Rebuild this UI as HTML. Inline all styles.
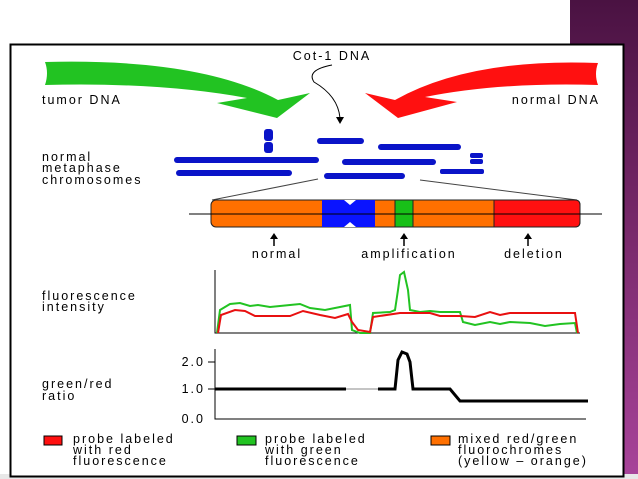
<!DOCTYPE html>
<html><head><meta charset="utf-8"><style>
html,body{margin:0;padding:0;width:638px;height:479px;overflow:hidden;background:#fff}
</style></head><body>
<svg width="638" height="479" viewBox="0 0 638 479" xmlns="http://www.w3.org/2000/svg" font-family="Liberation Sans, sans-serif" font-size="12.5" letter-spacing="2" fill="#000">
<defs><linearGradient id="pg" x1="0" y1="0" x2="0" y2="1"><stop offset="0" stop-color="#4a1242"/><stop offset="0.5" stop-color="#7a2a6c"/><stop offset="1" stop-color="#a8449a"/></linearGradient></defs>
<rect x="570" y="0" width="68" height="479" fill="url(#pg)"/>
<rect x="0" y="474" width="638" height="5" fill="#e8e8e8"/>
<rect x="10.5" y="44.5" width="613" height="432" fill="#fff" stroke="#000" stroke-width="2"/>
<text x="332" y="60" text-anchor="middle">Cot-1 DNA</text>
<path d="M45,62 Q200,58 278,100 L310,93 L277,118 L217,103 L247,98 Q160,82 45,85 Q49,73 45,62Z" fill="#22c322"/>
<path d="M598,63 Q470,58 395,100 L365,93 L398,118 L457,102 L425,97 Q500,82 598,85 Q594,74 598,63Z" fill="#ff1010"/>
<path d="M332,65 Q306,70 314,82 Q338,96 340,118" fill="none" stroke="#000" stroke-width="1"/>
<path d="M336,117 L344,117 L340,124Z"/>
<text x="42" y="104">tumor DNA</text>
<text x="600" y="104" text-anchor="end">normal DNA</text>
<g fill="#0a14c8">
<rect x="264" y="129" width="9" height="12" rx="3"/><rect x="264" y="142" width="9" height="11" rx="3"/>
<rect x="317" y="138" width="47" height="6" rx="3"/>
<rect x="378" y="144" width="83" height="6" rx="3"/>
<rect x="174" y="157" width="145" height="6" rx="3"/>
<rect x="342" y="159" width="94" height="6" rx="3"/>
<rect x="470" y="153" width="13" height="5" rx="2"/><rect x="470" y="159" width="13" height="5" rx="2"/>
<rect x="176" y="170" width="116" height="6" rx="3"/>
<rect x="324" y="173" width="81" height="6" rx="3"/>
<rect x="440" y="169" width="44" height="5" rx="2"/>
</g>
<text x="42" y="161">normal</text><text x="42" y="172">metaphase</text><text x="42" y="184">chromosomes</text>
<line x1="318" y1="179" x2="212" y2="200" stroke="#444"/>
<line x1="420" y1="180" x2="577" y2="200" stroke="#444"/>
<rect x="211" y="200" width="369" height="27" rx="5" fill="#ff7000" stroke="#222"/>
<rect x="322" y="200" width="53" height="27" fill="#0a14ff"/>
<path d="M344,200 L350,205 L356,200Z M344,227 L350,222 L356,227Z" fill="#fff"/>
<rect x="395" y="200" width="18" height="27" fill="#18c018" stroke="#222"/>
<path d="M494,200 H575 Q580,200 580,205 V222 Q580,227 575,227 H494Z" fill="#ff1010" stroke="#222"/>
<line x1="189" y1="214" x2="602" y2="214" stroke="#000"/>
<g stroke="#000" stroke-width="1.5"><line x1="274" y1="237" x2="274" y2="246"/><line x1="404" y1="237" x2="404" y2="246"/><line x1="528" y1="237" x2="528" y2="246"/></g>
<path d="M270,239 L278,239 L274,233Z M400,239 L408,239 L404,233Z M524,239 L532,239 L528,233Z"/>
<text x="277" y="258" text-anchor="middle">normal</text>
<text x="409" y="258" text-anchor="middle">amplification</text>
<text x="534" y="258" text-anchor="middle">deletion</text>
<text x="42" y="300">fluorescence</text><text x="42" y="311">intensity</text>
<path d="M215,270 V333 H580" fill="none" stroke="#000"/>
<polyline fill="none" stroke="#22c322" stroke-width="2" points="217,333 220,310 230,304 240,303 250,306 258,305 270,307 290,305 300,304 310,308 325,310 340,307 350,305 352,330 360,333 370,333 373,313 390,312 395,310 398,290 400,275 404,272 408,290 410,310 420,312 430,311 440,312 460,312 463,322 475,325 490,322 500,324 510,322 530,323 545,326 560,324 575,323 577,333"/>
<polyline fill="none" stroke="#e81010" stroke-width="2" points="218,333 221,315 235,310 245,311 255,316 270,316 290,316 303,311 320,315 335,318 348,314 352,322 358,330 370,332 373,317 400,313 430,313 440,316 460,316 475,317 490,312 500,315 510,313 540,313 575,313 578,333"/>
<path d="M215,349 V419 H586" fill="none" stroke="#000"/>
<g stroke="#000"><line x1="208" y1="362" x2="215" y2="362"/><line x1="208" y1="389" x2="215" y2="389"/></g>
<text x="205" y="366" text-anchor="end">2.0</text><text x="205" y="393" text-anchor="end">1.0</text><text x="205" y="423" text-anchor="end">0.0</text>
<text x="42" y="388">green/red</text><text x="42" y="400">ratio</text>
<line x1="215" y1="389" x2="346" y2="389" stroke="#000" stroke-width="3"/>
<line x1="346" y1="389" x2="378" y2="389" stroke="#888" stroke-width="1"/>
<polyline fill="none" stroke="#000" stroke-width="3" points="378,389 395,389 398,360 402,352 407,354 410,362 413,389 450,389 460,401 588,401"/>
<rect x="44" y="436" width="18" height="9" fill="#ff1010" stroke="#000"/>
<rect x="237" y="436" width="19" height="9" fill="#22c322" stroke="#000"/>
<rect x="431" y="436" width="19" height="9" fill="#ff7000" stroke="#000"/>
<text x="73" y="443">probe labeled</text><text x="73" y="454">with red</text><text x="73" y="465">fluorescence</text>
<text x="265" y="443">probe labeled</text><text x="265" y="454">with green</text><text x="265" y="465">fluorescence</text>
<text x="458" y="443">mixed red/green</text><text x="458" y="454">fluorochromes</text><text x="458" y="465">(yellow – orange)</text>
</svg>
</body></html>
